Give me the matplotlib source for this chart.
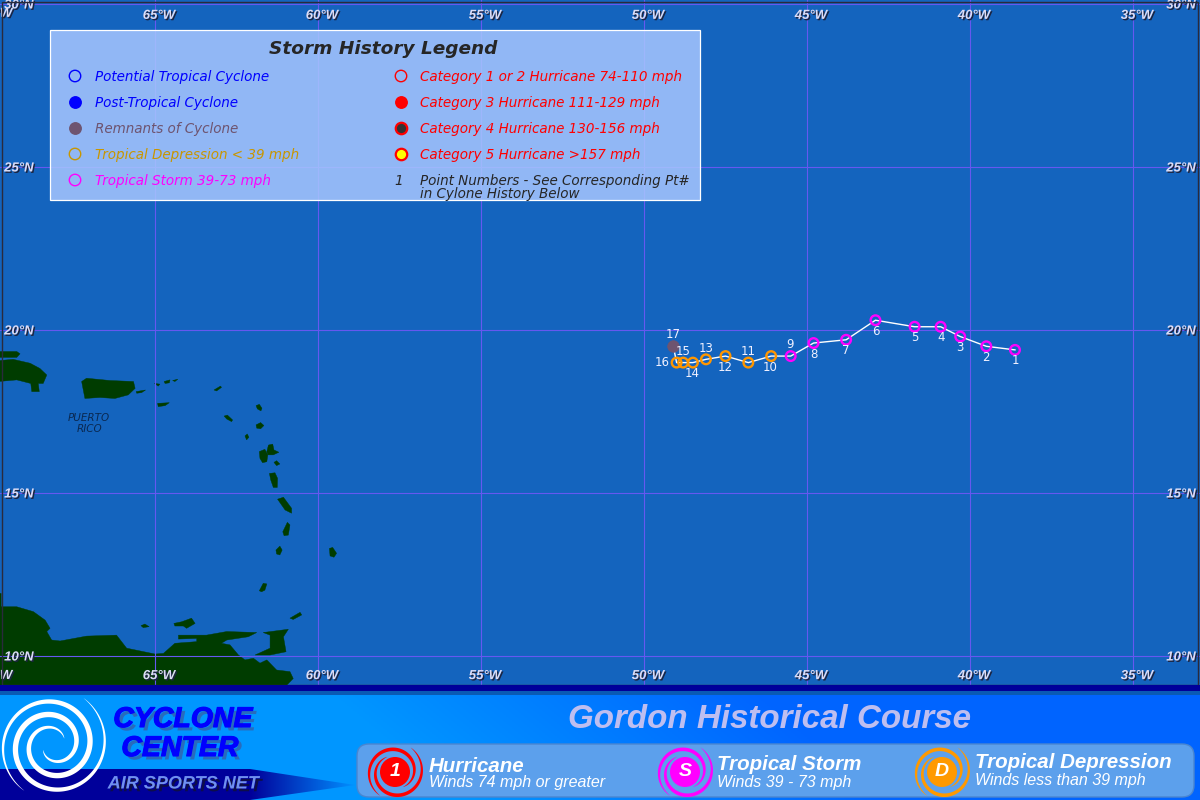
import numpy as np
import matplotlib
matplotlib.use("Agg")
import matplotlib.pyplot as plt
import matplotlib.patheffects as pe
from matplotlib.patches import Polygon, Rectangle, FancyBboxPatch, Circle
from matplotlib.colors import LinearSegmentedColormap
from matplotlib.transforms import ScaledTranslation

# ---------- data ----------
track_lon = [-38.62, -39.5, -40.3, -40.9, -41.7, -42.9, -43.8, -44.8, -45.5, -46.1, -46.8, -47.5, -48.1, -48.5, -48.8, -49.0, -49.1]
track_lat = [19.39, 19.5, 19.8, 20.1, 20.1, 20.3, 19.7, 19.6, 19.2, 19.2, 19.0, 19.2, 19.1, 19.0, 19.0, 19.0, 19.5]
track_class = ['TS'] * 9 + ['TD'] * 7 + ['REM']
label_offset_px = [(0, 11), (0, 11), (0, 11), (0, 11), (0, 11), (0, 11), (0, 11), (0, 11), (-1, -12), (-1, 11),
                   (0, -11), (0, 11), (0, -11), (-1, 11), (0, -11), (-14, 0), (0, -12)]
lon_ticks = [-65, -60, -55, -50, -45, -40, -35]
lat_ticks = [10, 15, 20, 25, 30]
lon_labels = ['65°W', '60°W', '55°W', '50°W', '45°W', '40°W', '35°W']
lat_labels = ['10°N', '15°N', '20°N', '25°N', '30°N']

puerto_rico = [(-67.25,18.42),(-67.10,18.52),(-66.38,18.45),(-65.66,18.42),(-65.61,18.21),(-65.82,18.01),(-66.23,17.90),(-66.69,17.93),(-67.15,17.90),(-67.20,18.16)]
hispaniola = [(-69.8,19.06),(-69.35,19.10),(-68.83,18.98),(-68.53,18.82),(-68.32,18.62),(-68.43,18.36),(-68.58,18.36),(-68.55,18.11),(-68.78,18.11),(-68.81,18.36),(-69.24,18.47),(-69.8,18.42)]
samana = [(-69.8,19.34),(-69.24,19.34),(-69.14,19.27),(-69.24,19.16),(-69.8,19.16)]
venezuela = [(-69.8,11.92),(-69.72,11.92),(-69.72,11.51),(-69.24,11.51),(-68.73,11.36),(-68.37,11.10),(-68.22,10.85),(-68.32,10.75),(-68.17,10.49),(-67.91,10.46),(-67.10,10.61),(-66.18,10.64),(-65.87,10.24),(-65.0,10.06),(-64.74,10.08),(-64.39,10.39),(-63.72,10.44),(-63.72,10.54),(-64.28,10.52),(-64.28,10.64),(-63.42,10.64),(-62.80,10.75),(-61.88,10.72),(-62.14,10.59),(-62.80,10.49),(-62.96,10.39),(-62.70,10.34),(-62.44,10.03),(-62.24,9.88),(-61.98,9.93),(-61.78,9.78),(-61.57,9.88),(-61.27,9.57),(-60.86,9.52),(-60.76,9.31),(-61.06,9.0),(-69.8,9.0)]
trinidad = [(-61.68,10.72),(-60.91,10.82),(-61.06,10.59),(-60.98,10.13),(-61.47,10.03),(-61.93,10.03),(-61.47,10.24),(-61.47,10.64)]
tobago = [(-60.86,11.16),(-60.55,11.34),(-60.50,11.26),(-60.76,11.12)]
margarita = [(-64.42,11.0),(-64.18,11.05),(-63.88,11.16),(-63.77,11.0),(-64.03,10.85),(-64.13,10.92),(-64.39,10.92)]
tortuga = [(-65.43,10.93),(-65.31,10.98),(-65.18,10.90),(-65.36,10.87)]
barbados = [(-59.65,13.30),(-59.55,13.33),(-59.43,13.15),(-59.51,13.03),(-59.63,13.07)]
grenada = [(-61.80,12.00),(-61.68,12.23),(-61.57,12.21),(-61.63,12.02),(-61.73,11.97)]
st_vincent = [(-61.29,13.25),(-61.17,13.37),(-61.10,13.25),(-61.17,13.10),(-61.27,13.13)]
st_lucia = [(-61.08,13.81),(-60.94,14.10),(-60.86,14.02),(-60.91,13.71),(-61.04,13.69)]
martinique = [(-61.24,14.81),(-61.06,14.87),(-60.81,14.53),(-60.81,14.38),(-61.01,14.48)]
dominica = [(-61.49,15.60),(-61.32,15.62),(-61.24,15.45),(-61.25,15.17),(-61.37,15.17),(-61.45,15.40)]
marie_galante = [(-61.35,15.94),(-61.27,15.99),(-61.17,15.89),(-61.27,15.84)]
guadeloupe_w = [(-61.80,16.27),(-61.63,16.34),(-61.54,16.17),(-61.57,15.96),(-61.70,15.93),(-61.78,16.06)]
guadeloupe_e = [(-61.57,16.27),(-61.52,16.47),(-61.39,16.50),(-61.35,16.32),(-61.20,16.25),(-61.37,16.17),(-61.54,16.17)]
montserrat = [(-62.24,16.75),(-62.17,16.81),(-62.12,16.71),(-62.19,16.63)]
antigua = [(-61.90,17.09),(-61.76,17.16),(-61.66,17.07),(-61.76,16.97),(-61.88,16.99)]
barbuda = [(-61.90,17.68),(-61.80,17.72),(-61.72,17.60),(-61.75,17.52),(-61.86,17.58)]
st_kitts = [(-62.88,17.36),(-62.78,17.39),(-62.62,17.24),(-62.65,17.19),(-62.80,17.27)]
anguilla = [(-63.19,18.16),(-62.99,18.28),(-62.96,18.24),(-63.11,18.13)]
st_croix = [(-64.92,17.75),(-64.56,17.77),(-64.69,17.68),(-64.90,17.65)]
vieques = [(-65.58,18.11),(-65.29,18.16),(-65.41,18.08),(-65.56,18.06)]
st_thomas = [(-65.02,18.36),(-64.85,18.34),(-64.90,18.28)]
st_john = [(-64.72,18.42),(-64.54,18.47),(-64.56,18.38),(-64.69,18.36)]
tortola = [(-64.46,18.45),(-64.30,18.49),(-64.39,18.42)]
land_shapes = [puerto_rico, hispaniola, samana, venezuela, trinidad, tobago, margarita, tortuga, barbados, grenada,
               st_vincent, st_lucia, martinique, dominica, marie_galante, guadeloupe_w, guadeloupe_e, montserrat,
               antigua, barbuda, st_kitts, anguilla, st_croix, vieques, st_thomas, st_john, tortola]

legend_left = [('Potential Tropical Cyclone', '#0000ff', 'none'), ('Post-Tropical Cyclone', '#0000ff', '#0000ff'),
               ('Remnants of Cyclone', '#6e5470', '#6e5470'), ('Tropical Depression < 39 mph', '#c89600', 'none'),
               ('Tropical Storm 39-73 mph', '#ff00ff', 'none')]
legend_right = [('Category 1 or 2 Hurricane 74-110 mph', '#ff0000', 'none'), ('Category 3 Hurricane 111-129 mph', '#ff0000', '#ff0000'),
                ('Category 4 Hurricane 130-156 mph', '#ff0000', '#333333'), ('Category 5 Hurricane >157 mph', '#ff0000', '#ffff00')]
key_items = [('1', 'Hurricane', 'Winds 74 mph or greater', '#ff0000', 395, 772, 429, 766, 783),
             ('S', 'Tropical Storm', 'Winds 39 - 73 mph', '#ff00ff', 685, 772, 717, 765, 782),
             ('D', 'Tropical Depression', 'Winds less than 39 mph', '#ff9900', 942, 772, 975, 763, 780)]

# ---------- colours ----------
OCEAN = '#1464be'
LAND = '#003c00'
GRID = '#6658f0'

plt.rcParams['font.family'] = 'DejaVu Sans'
fig = plt.figure(figsize=(12, 8), dpi=100, facecolor=OCEAN)

# ---------- map ----------
PX = 32.6
ax = fig.add_axes([0, 115 / 800, 1, 685 / 800], facecolor=OCEAN)
ax.set_xlim(-65 - 155 / PX, -65 + (1200 - 155) / PX)
ax.set_ylim(10 - 29 / PX, 10 + 656 / PX)
for s in ax.spines.values():
    s.set_visible(False)

for shape in land_shapes:
    ax.add_patch(Polygon(shape, closed=True, facecolor=LAND, edgecolor=LAND, lw=0.3, zorder=1.5))

ax.set_xticks(lon_ticks, lon_labels)
ax.set_yticks(lat_ticks, lat_labels)
ax.grid(True, color=GRID, lw=0.8, zorder=2)
ax.set_axisbelow(False)
ax.tick_params(axis='x', length=0, labelbottom=True, labeltop=True, pad=-10.7)
ax.tick_params(axis='y', length=0, labelleft=True, labelright=True, pad=-24.3)

LABEL_STYLE = dict(color='#dcdcf5', fontsize=9.5, fontstyle='italic', fontweight='bold', fontfamily='Liberation Sans')
shadow_small = [pe.SimplePatchShadow(offset=(1, -1), shadow_rgbFace='#1c2440', alpha=1), pe.Normal()]
for t in ax.xaxis.get_major_ticks():
    t.label1.set_transform(t.label1.get_transform() + ScaledTranslation(0.04, 0, fig.dpi_scale_trans))
    t.label2.set_transform(t.label2.get_transform() + ScaledTranslation(0.04, -0.07, fig.dpi_scale_trans))
for t in list(ax.xaxis.get_major_ticks()) + list(ax.yaxis.get_major_ticks()):
    for lab in (t.label1, t.label2):
        lab.set(**LABEL_STYLE)
        lab.set_path_effects(shadow_small)
for frac, off in ((1, -10), (0, 6.5)):
    ax.annotate('70°W', (-70, frac), xycoords=ax.get_xaxis_transform(), xytext=(3, off), textcoords='offset points',
                ha='center', va='center', annotation_clip=False, path_effects=shadow_small, **LABEL_STYLE)

ax.text(-67.02, 17.29, 'PUERTO', fontsize=7.5, fontstyle='italic', color='#0a2850', ha='center', va='center', zorder=3)
ax.text(-67.02, 16.95, 'RICO', fontsize=7.5, fontstyle='italic', color='#0a2850', ha='center', va='center', zorder=3)

# track
ax.plot(track_lon, track_lat, color='white', lw=1, zorder=4)
styles = {'TS': dict(facecolor='none', edgecolor='#ff00ff', s=48, lw=1.7),
          'TD': dict(facecolor='none', edgecolor='#ff9600', s=48, lw=1.7),
          'REM': dict(facecolor='#6e5470', edgecolor='#6e5470', s=70, lw=0.5)}
for cls, st in styles.items():
    xs = [x for x, c in zip(track_lon, track_class) if c == cls]
    ys = [y for y, c in zip(track_lat, track_class) if c == cls]
    ax.scatter(xs, ys, zorder=5, **st)
for i, (x, y, (dx, dy)) in enumerate(zip(track_lon, track_lat, label_offset_px)):
    ax.annotate(str(i + 1), (x, y), xytext=(dx * 0.72, -dy * 0.72), textcoords='offset points', ha='center', va='center',
                color='#f0f0ff', fontsize=8.5, zorder=6)

# ---------- overlay in reference pixel coordinates ----------
ov = fig.add_axes([0, 0, 1, 1], facecolor='none')
ov.axis('off')

# legend
ov.add_patch(Rectangle((50, 30), 650, 170, facecolor='#a8c7ff', alpha=0.85, edgecolor='none', zorder=1))
ov.add_patch(Rectangle((50, 30), 650, 170, facecolor='none', edgecolor='white', lw=0.9, zorder=2))
ov.text(383.5, 49, 'Storm History Legend', fontsize=13.3, fontweight='bold', fontstyle='italic', color='#262626', ha='center', va='center', zorder=3)
row_y = [76, 102, 128, 154, 180]
LEG = dict(fontsize=9.75, fontstyle='italic', va='center', zorder=3)
for (label, ec, fc), y in zip(legend_left, row_y):
    ov.scatter([75], [y], s=68, facecolor=fc, edgecolor=ec, lw=1, zorder=3)
    ov.text(95, y + 1, label, color=ec, **LEG)
for (label, ec, fc), y in zip(legend_right, row_y):
    ov.scatter([401], [y], s=68, facecolor=fc, edgecolor=ec, lw=1.6 if fc not in ('none', '#ff0000') else 1, zorder=3)
    ov.text(420, y + 1, label, color=ec, **LEG)
ov.text(399, 181, '1', color='#262626', ha='center', **LEG)
ov.text(420, 181, 'Point Numbers - See Corresponding Pt#', color='#262626', **LEG)
ov.text(420, 194, 'in Cylone History Below', color='#262626', **LEG)

# banner background
ov.add_patch(Rectangle((0, 685), 1200, 6, facecolor='#00009a', edgecolor='none', zorder=4))
ov.add_patch(Rectangle((0, 691), 1200, 4, facecolor='#0a5ab4', edgecolor='none', zorder=4))
h, w = 105, 600
yy, xx = np.mgrid[0:h, 0:w]
t = np.clip((xx * 2 - 420 + (h - yy) * 1.2 - 40) / 430, 0, 1)
cm = LinearSegmentedColormap.from_list('b', ['#0096ff', '#0064ff'])
ov.imshow(t, cmap=cm, vmin=0, vmax=1, extent=(0, 1200, 800, 695), aspect='auto', zorder=4.1, interpolation='bilinear')

# navy ribbon with fading tail
ov.add_patch(Rectangle((0, 769), 250, 31, facecolor='#00009a', edgecolor='none', zorder=4.2))
ribbon = np.linspace(0, 1, 200)[None, :]
rc = LinearSegmentedColormap.from_list('r', ['#00009a', '#0090ff'])
im = ov.imshow(ribbon, cmap=rc, extent=(250, 355, 800, 769), aspect='auto', zorder=4.2, vmin=0, vmax=1)
tri = Polygon([(250, 769), (355, 785), (250, 800)], closed=True, facecolor='none', edgecolor='none')
ov.add_patch(tri)
im.set_clip_path(tri)
ov.set_xlim(0, 1200)
ov.set_ylim(800, 0)


def spiral(cx, cy, r_start, r_end, a_start, sweep, w_max, color, z):
    """Filled, tapered spiral arm; angles in degrees, clockwise on screen."""
    s = np.linspace(0, 1, 300)
    a = np.radians(a_start + sweep * s)
    r = r_start + (r_end - r_start) * s
    wd = w_max * np.sin(np.pi * s) ** 0.7 / 2
    outer = np.column_stack([cx + (r + wd) * np.cos(a), cy + (r + wd) * np.sin(a)])
    inner = np.column_stack([cx + (r - wd) * np.cos(a), cy + (r - wd) * np.sin(a)])
    ov.add_patch(Polygon(np.vstack([outer, inner[::-1]]), closed=True, facecolor=color, edgecolor='none', zorder=z))


spiral(53, 745, 56, 11, -57, 570, 5.5, 'white', 5)
spiral(53, 745, 54, 13, 122, 568, 5.5, 'white', 5)

# banner text
shadow_big = [pe.SimplePatchShadow(offset=(2.5, -2.5), shadow_rgbFace='#3a5aa0', alpha=0.7), pe.Stroke(linewidth=0.8, foreground='#0000ff'), pe.Normal()]
shadow_net = [pe.SimplePatchShadow(offset=(2, -2), shadow_rgbFace='#101040', alpha=0.9), pe.Normal()]
BANNER = dict(fontweight='bold', fontstyle='italic', ha='center', va='center', fontfamily='Liberation Sans', zorder=6)
ov.text(183, 720, 'CYCLONE', fontsize=20.5, color='#0000ff', path_effects=shadow_big, **BANNER)
ov.text(180, 749, 'CENTER', fontsize=20.5, color='#0000ff', path_effects=shadow_big, **BANNER)
ov.text(183, 784, 'AIR SPORTS NET', fontsize=13, color='#7090f0', path_effects=shadow_net, **BANNER)
ov.text(770, 719, 'Gordon Historical Course', fontsize=23.9, color='#bebef0', **BANNER)

# key panel
ov.add_patch(FancyBboxPatch((362, 749), 827, 43, boxstyle='round,pad=5,rounding_size=12', facecolor='#5ca0ec', edgecolor='#4a86d0', lw=1, zorder=5))
for sym, name, desc, col, cx, cy, tx, ty1, ty2 in key_items:
    spiral(cx, cy, 29, 17, -57, 300, 3.6, col, 5.5)
    spiral(cx, cy, 28, 17, 122, 300, 3.6, col, 5.5)
    ov.add_patch(Circle((cx, cy), 15, facecolor=col, edgecolor='none', zorder=5.6))
    ov.text(cx, cy, sym, color='white', fontsize=14, fontweight='bold', fontstyle='italic', ha='center', va='center', fontfamily='Liberation Sans', zorder=6)
    ov.text(tx, ty1, name, color='white', fontsize=14.8, fontweight='bold', fontstyle='italic', va='center', fontfamily='Liberation Sans', zorder=6)
    ov.text(tx, ty2, desc, color='white', fontsize=11.5, fontstyle='italic', va='center', fontfamily='Liberation Sans', zorder=6)

# frame
ov.add_patch(Rectangle((2, 2), 1196, 683, facecolor='none', edgecolor='#2a2a3c', lw=1, zorder=3))

fig.savefig('out.png', dpi=100, facecolor=fig.get_facecolor())
